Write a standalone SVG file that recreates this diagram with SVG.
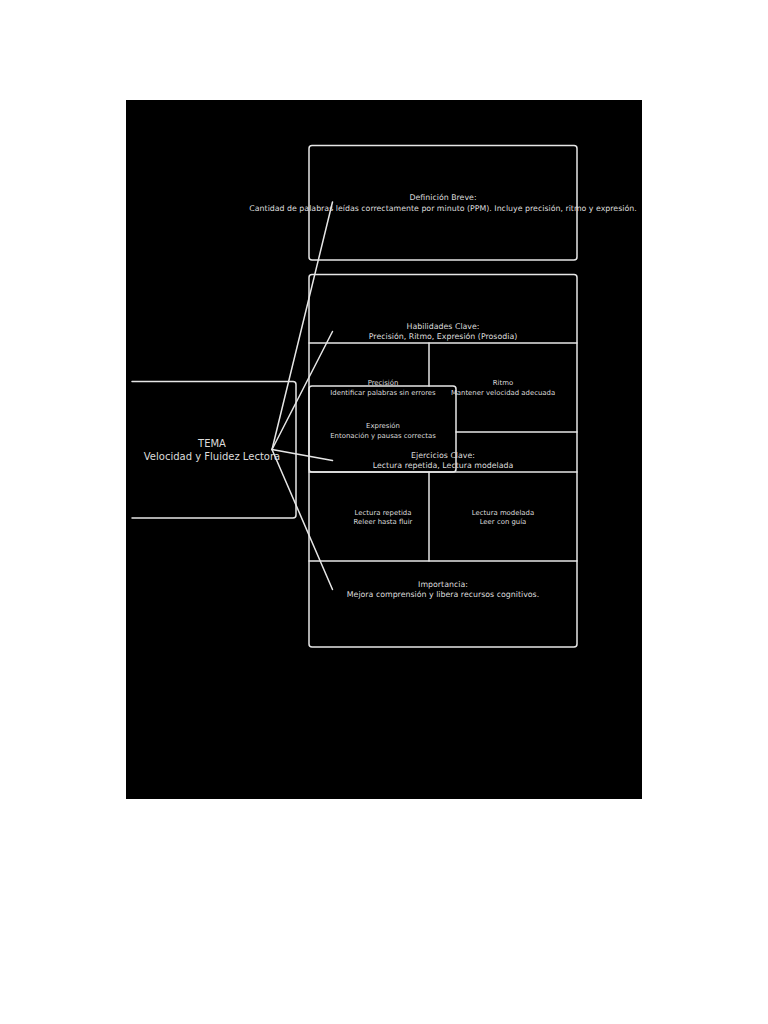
<svg xmlns="http://www.w3.org/2000/svg" width="768" height="1024" viewBox="0 0 768 1024">
<style>
.ln{fill:none;stroke:#e6e6e6;stroke-width:1.5;stroke-linejoin:round;stroke-linecap:round}
.t{font-family:"DejaVu Sans",Verdana,sans-serif;fill:#dcdcdc;text-anchor:middle}
.s8{font-size:7.85px}
.s7{font-size:6.9px}
.s10{font-size:10px}
</style>
<rect x="0" y="0" width="768" height="1024" fill="#ffffff"/>
<rect x="126" y="100" width="516" height="699" fill="#000000"/>
<g id="texts">
<g id="tema-text">
<text class="t s10" x="212" y="446.5">TEMA</text>
<text class="t s10" x="212" y="459.5">Velocidad y Fluidez Lectora</text>
</g>
<g id="definicion-text">
<text class="t s8" x="443" y="200">Definición Breve:</text>
<text class="t s8" x="443" y="210.5">Cantidad de palabras leídas correctamente por minuto (PPM). Incluye precisión, ritmo y expresión.</text>
</g>
<g id="habilidades-text">
<text class="t s8" x="443" y="329">Habilidades Clave:</text>
<text class="t s8" x="443" y="339">Precisión, Ritmo, Expresión (Prosodia)</text>
</g>
<g id="precision-text">
<text class="t s7" x="383" y="385">Precisión</text>
<text class="t s7" x="383" y="394.5">Identificar palabras sin errores</text>
</g>
<g id="ritmo-text">
<text class="t s7" x="503" y="385">Ritmo</text>
<text class="t s7" x="503" y="394.5">Mantener velocidad adecuada</text>
</g>
<g id="expresion-text">
<text class="t s7" x="383" y="428">Expresión</text>
<text class="t s7" x="383" y="438">Entonación y pausas correctas</text>
</g>
<g id="ejercicios-text">
<text class="t s8" x="443" y="458">Ejercicios Clave:</text>
<text class="t s8" x="443" y="468">Lectura repetida, Lectura modelada</text>
</g>
<g id="repetida-text">
<text class="t s7" x="383" y="514.5">Lectura repetida</text>
<text class="t s7" x="383" y="524">Releer hasta fluir</text>
</g>
<g id="modelada-text">
<text class="t s7" x="503" y="514.5">Lectura modelada</text>
<text class="t s7" x="503" y="524">Leer con guía</text>
</g>
<g id="importancia-text">
<text class="t s8" x="443" y="587">Importancia:</text>
<text class="t s8" x="443" y="597">Mejora comprensión y libera recursos cognitivos.</text>
</g>
</g>
<g id="tema">
<path class="ln" d="M132 381.5 H293 Q296 381.5 296 384.5 V515 Q296 518 293 518 H132"/>
</g>
<g id="definicion">
<rect class="ln" x="309" y="145.5" width="268" height="114.5" rx="3"/>
</g>
<g id="habilidades">
<rect class="ln" x="309" y="274.5" width="268" height="372.5" rx="3"/>
<path class="ln" d="M309 343 H577"/>
</g>
<g id="precision">
<path class="ln" d="M429 343 V386"/>
</g>
<g id="ritmo">
<path class="ln" d="M456 432 H577"/>
</g>
<g id="expresion">
<rect class="ln" x="309" y="386" width="147" height="86" rx="3"/>
</g>
<g id="ejercicios">
<path class="ln" d="M309 472 H577"/>
</g>
<g id="repetida-modelada">
<path class="ln" d="M429 472 V561"/>
</g>
<g id="importancia">
<path class="ln" d="M309 561 H577"/>
</g>
<g id="connectors">
<path class="ln" d="M272 449.5 L332.5 202"/>
<path class="ln" d="M272 449.5 L332.5 331.5"/>
<path class="ln" d="M272 449.5 L332.5 460.5"/>
<path class="ln" d="M272 449.5 L332.5 589.5"/>
</g>
</svg>
